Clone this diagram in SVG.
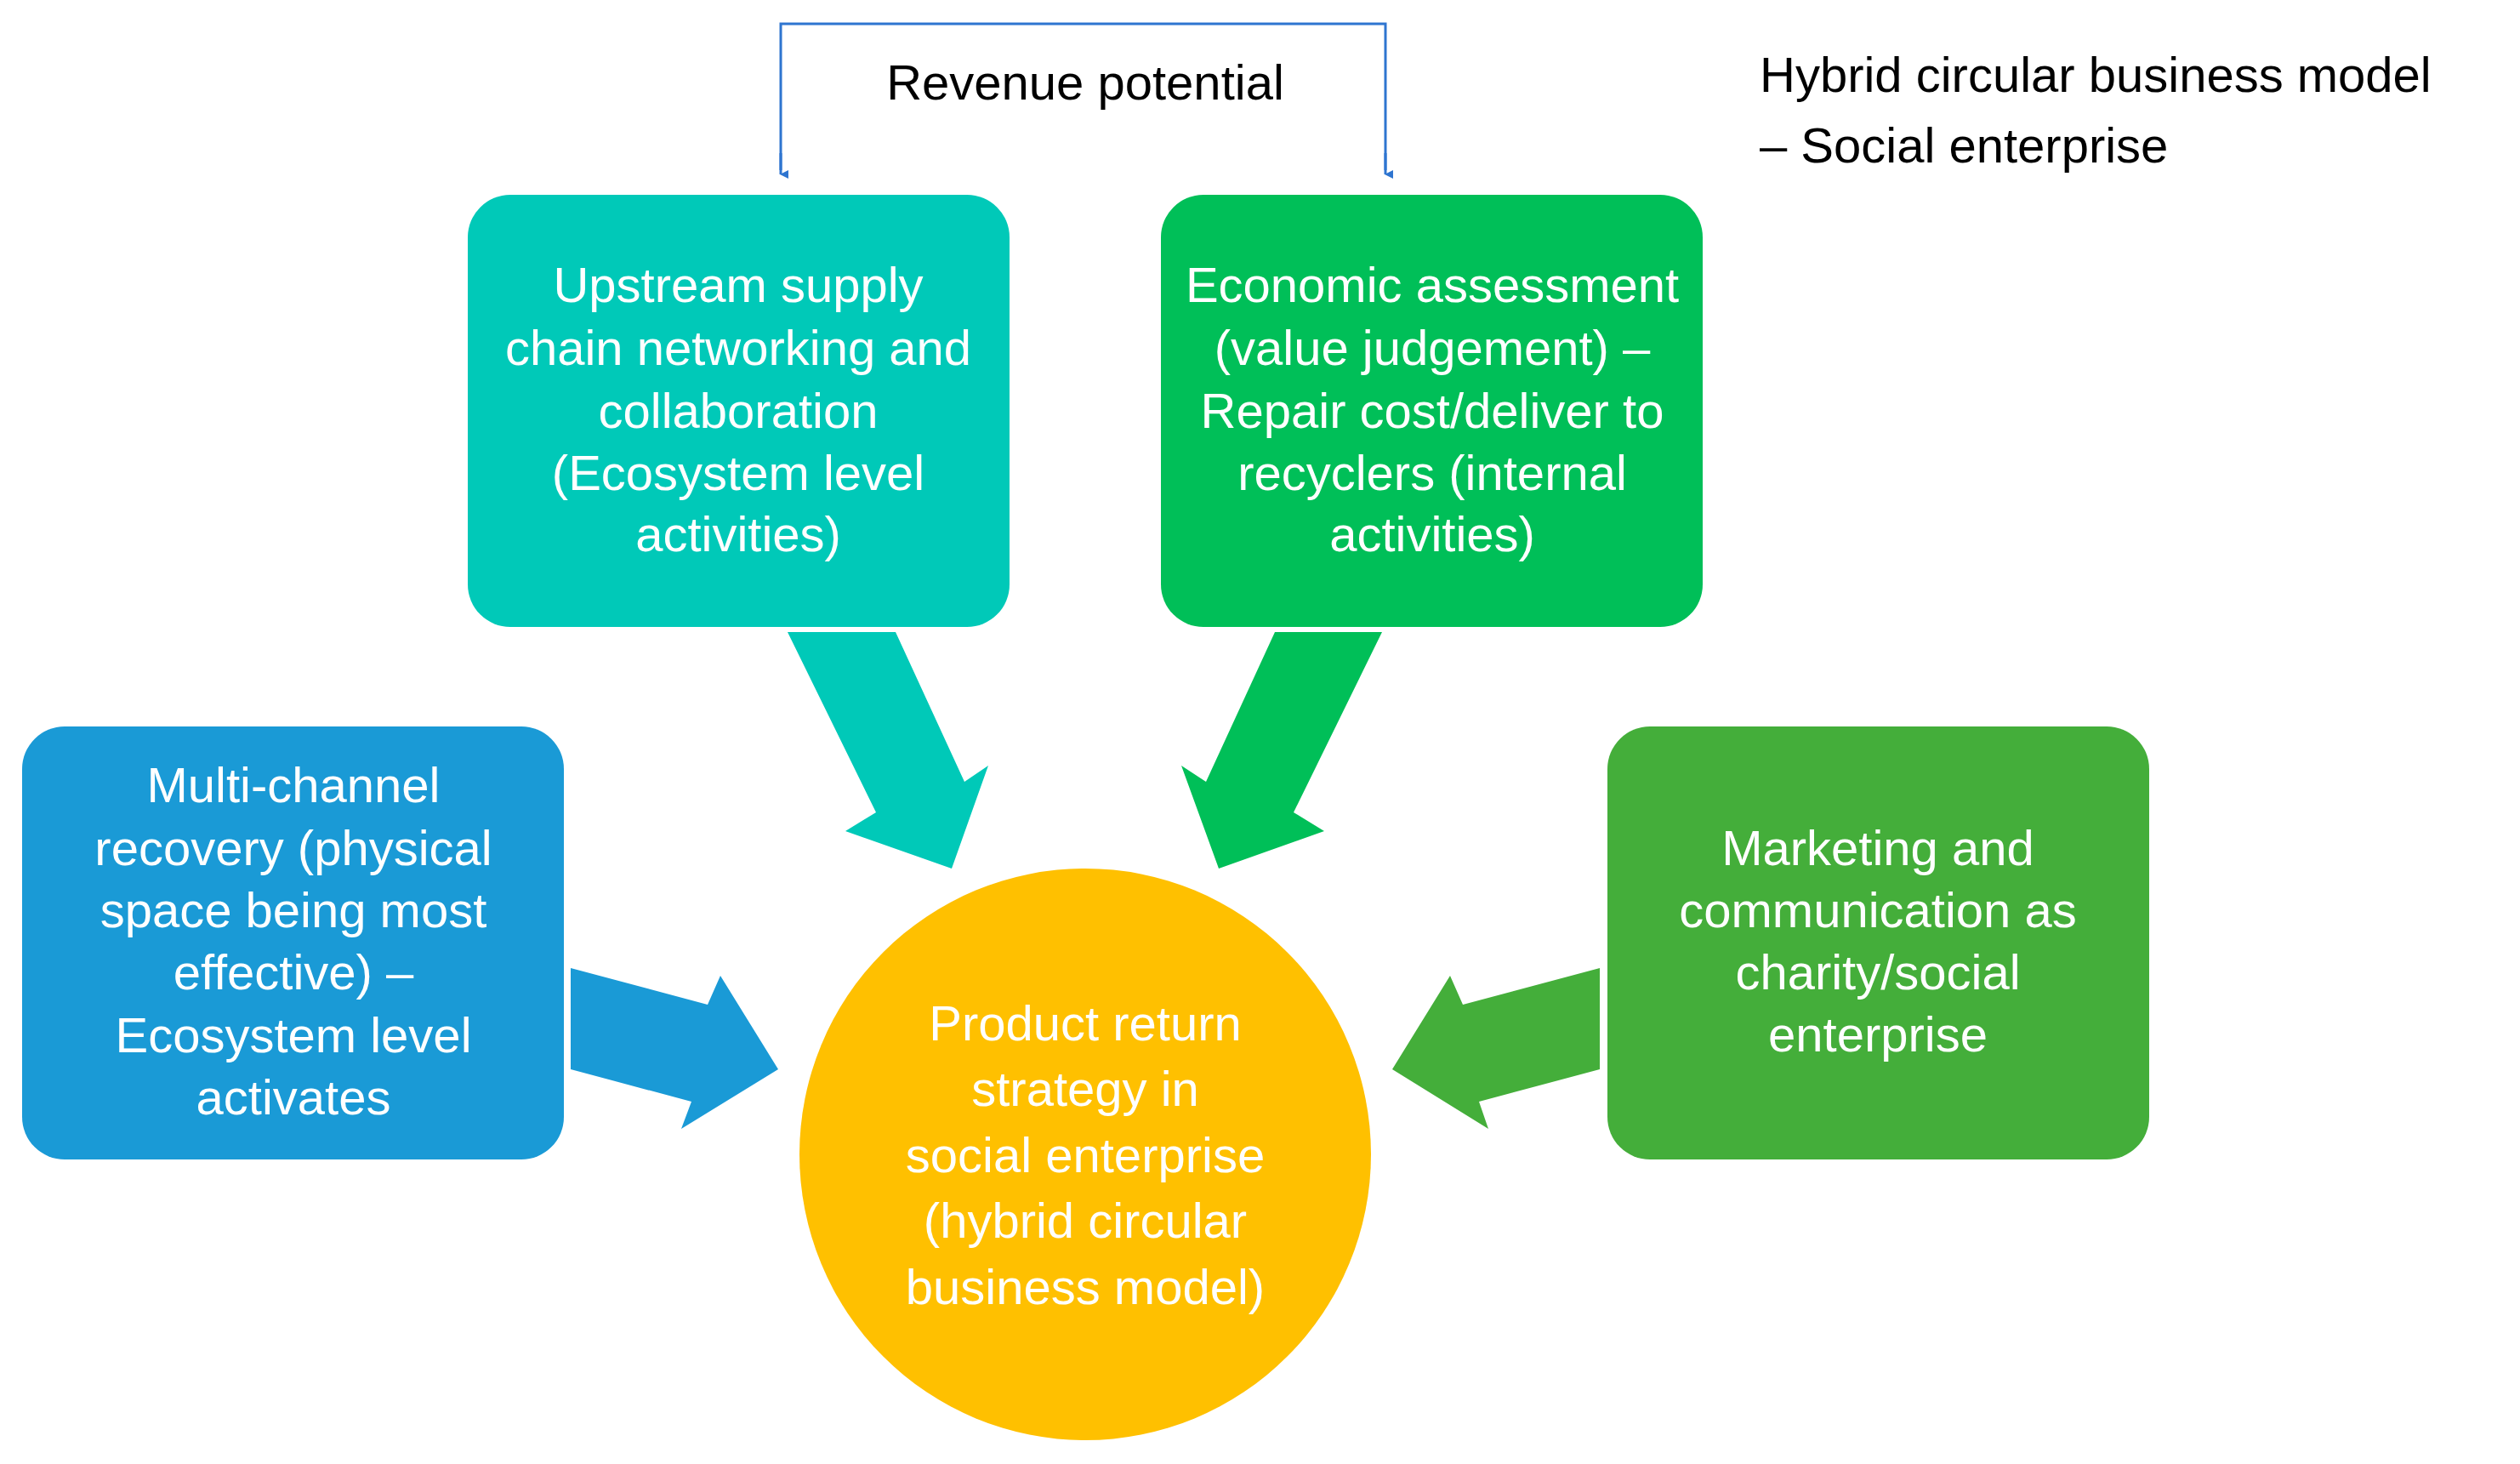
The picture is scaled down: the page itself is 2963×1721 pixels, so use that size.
<svg xmlns="http://www.w3.org/2000/svg" width="2963" height="1721" viewBox="0 0 2963 1721">
<defs>
<style>
.t{font-family:"Liberation Sans","Open Sans",sans-serif;font-size:58px;fill:#fff;text-anchor:middle}
.k{font-family:"Liberation Sans","Open Sans",sans-serif;font-size:58px;fill:#000}
</style>
<marker id="ah" markerWidth="10" markerHeight="10" refX="5" refY="9" orient="auto" markerUnits="userSpaceOnUse" viewBox="0 0 10 10"><path d="M0,0 L10,0 L5,10 Z" fill="#2E75D0"/></marker>
</defs>
<rect width="2963" height="1721" fill="#fff"/>
<g id="connectors">
<path d="M918,200 V28 H1629 V200" fill="none" stroke="#2E75D0" stroke-width="3"/>
<path d="M918,180 L918,205" stroke="#2E75D0" stroke-width="3" marker-end="url(#ah)"/>
<path d="M1629,180 L1629,205" stroke="#2E75D0" stroke-width="3" marker-end="url(#ah)"/>
<polygon fill="#00C9B8" points="926,743 1053,743 1134,919 1162,900 1119,1021 994,977 1030,955"/>
<polygon fill="#00BF58" points="1625,743 1499,743 1418,919 1389,900 1433,1021 1557,977 1521,955"/>
<polygon fill="#1A9AD6" points="671,1138 832,1181 847,1147 915,1257 801,1327 813,1295 671,1257"/>
<polygon fill="#44AE3A" points="1881,1138 1720,1181 1705,1147 1637,1257 1750,1327 1739,1295 1881,1257"/>
</g>
<g id="revenue"><text class="k" x="1276" y="117" text-anchor="middle">Revenue potential</text></g>
<g id="title"><text class="k" x="2069" y="108">Hybrid circular business model</text><text class="k" x="2069" y="191">– Social enterprise</text></g>
<g id="n1"><rect x="550" y="229" width="637" height="508" rx="50" fill="#00C9B8"/>
<text class="t" x="868" y="355">Upstream supply</text><text class="t" x="868" y="429">chain networking and</text><text class="t" x="868" y="503">collaboration</text><text class="t" x="868" y="576">(Ecosystem level</text><text class="t" x="868" y="648">activities)</text></g>
<g id="n2"><rect x="1365" y="229" width="637" height="508" rx="50" fill="#00BF58"/>
<text class="t" x="1684" y="355">Economic assessment</text><text class="t" x="1684" y="429">(value judgement) –</text><text class="t" x="1684" y="503">Repair cost/deliver to</text><text class="t" x="1684" y="576">recyclers (internal</text><text class="t" x="1684" y="648">activities)</text></g>
<g id="n3"><rect x="26" y="854" width="637" height="509" rx="50" fill="#1A9AD6"/>
<text class="t" x="345" y="943">Multi-channel</text><text class="t" x="345" y="1017">recovery (physical</text><text class="t" x="345" y="1090">space being most</text><text class="t" x="345" y="1163">effective) –</text><text class="t" x="345" y="1237">Ecosystem level</text><text class="t" x="345" y="1310">activates</text></g>
<g id="n4"><rect x="1890" y="854" width="637" height="509" rx="50" fill="#44AE3A"/>
<text class="t" x="2208" y="1017">Marketing and</text><text class="t" x="2208" y="1090">communication as</text><text class="t" x="2208" y="1163">charity/social</text><text class="t" x="2208" y="1236">enterprise</text></g>
<g id="center"><ellipse cx="1276" cy="1357" rx="336" ry="336" fill="#FFC000"/>
<text class="t" x="1276" y="1223">Product return</text><text class="t" x="1276" y="1300">strategy in</text><text class="t" x="1276" y="1378">social enterprise</text><text class="t" x="1276" y="1455">(hybrid circular</text><text class="t" x="1276" y="1533">business model)</text></g>
</svg>
